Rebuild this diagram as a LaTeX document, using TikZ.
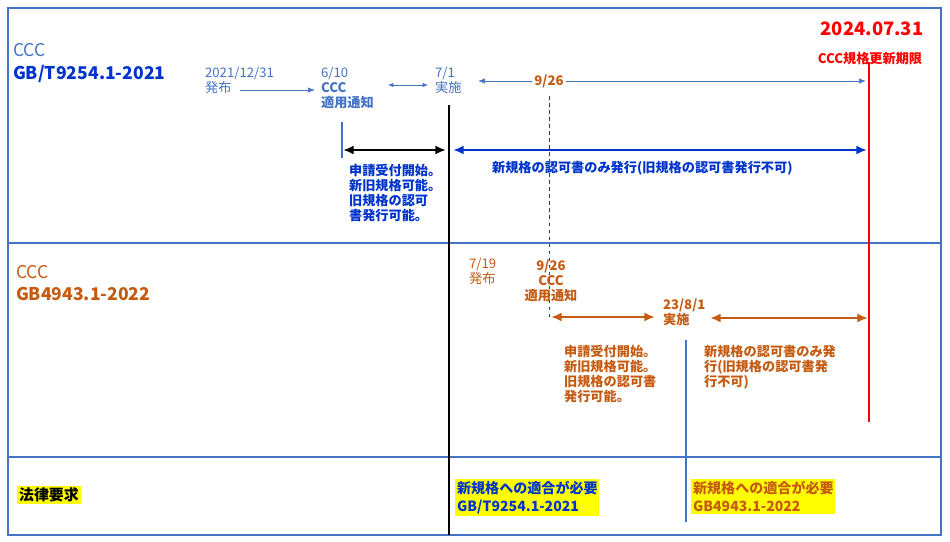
\documentclass[tikz,border=0pt]{standalone}
\usepackage{fontspec}
\setmainfont{Noto Sans CJK JP}
\usetikzlibrary{arrows.meta}
\definecolor{cblue}{RGB}{47,84,150}
\definecolor{lblue}{RGB}{68,114,196}
\definecolor{dblue}{RGB}{0,51,204}
\definecolor{corange}{RGB}{197,90,17}
\definecolor{hlyellow}{RGB}{255,255,0}
\begin{document}
\begin{tikzpicture}[x=0.02cm, y=-0.02cm,
    txt/.style={font=\fontsize{7.5}{8.5}\selectfont, align=left, inner sep=1pt},
    btxt/.style={txt, font=\fontsize{7.5}{8.5}\selectfont\bfseries},
    thinarr/.style={lblue, -{Latex[length=4pt,width=3pt]}},
    fatarr/.style={line width=1.4pt, {Latex[length=6pt,width=5pt]}-{Latex[length=6pt,width=5pt]}}]
  \useasboundingbox (0,0) rectangle (950,541);
  \draw [lblue, line width=0.6pt] (8,8) rectangle (941,535);
  \draw [lblue, line width=0.6pt] (8,243) -- (941,243);
  \draw [lblue, line width=0.6pt] (8,457) -- (941,457);

  % vertical markers
  \draw [black, line width=0.6pt] (449,105) -- (449,535);
  \draw [red, line width=1.5pt] (869,62) -- (869,422);
  \draw [lblue, line width=0.6pt] (686,340) -- (686,522);
  \draw [green!40!black, dash pattern=on 2pt off 2pt, line width=0.5pt] (549,96) -- (549,320);
  \draw [lblue, line width=0.6pt] (342,122) -- (342,158);

  % top row: GB/T9254.1-2021
  \node [anchor=north west, inner sep=1pt, lblue, font=\fontsize{10}{11}\selectfont] (ccca) at (11,41) {CCC};
  \node [anchor=north west, inner sep=1pt, dblue, font=\fontsize{10}{11}\selectfont\bfseries] (gba) at (11,63) {GB/T9254.1-2021};
  \node [anchor=north west, txt, lblue] (pubA) at (203,65) {2021/12/31\\発布};
  \node [anchor=north west, txt, lblue] (notA) at (319,65) {6/10\\\textbf{CCC}\\\textbf{適用通知}};
  \node [anchor=north west, txt, lblue] (implA) at (433,65) {7/1\\実施};
  \node [red, font=\fontsize{10.5}{12}\selectfont\bfseries] (deadline) at (872,29) {2024.07.31};
  \node [red, btxt] (deadlinelbl) at (870,59) {CCC規格更新期限};
  \node [corange, btxt, fill=white] (sepA) at (549,81) {9/26};
  \draw [thinarr] (240,90) -- (315,90);
  \draw [lblue, {Latex[length=3pt,width=2.5pt]}-{Latex[length=3pt,width=2.5pt]}] (388,85) -- (428,85);
  \draw [thinarr] (sepA) -- (478,81);
  \draw [thinarr] (sepA) -- (866,81);
  \coordinate (a1) at (343,150); \coordinate (a2) at (446,150);
  \coordinate (a3) at (453,150); \coordinate (a4) at (867,150);
  \draw [fatarr, black] (a1) -- (a2);
  \draw [fatarr, dblue] (a3) -- (a4);
  \node [anchor=north west, btxt, dblue] (transA) at (347,162) {申請受付開始。\\新旧規格可能。\\旧規格の認可\\書発行可能。};
  \node [anchor=north west, btxt, dblue] (onlyA) at (490,159) {新規格の認可書のみ発行(旧規格の認可書発行不可)};

  % middle row: GB4943.1-2022
  \node [anchor=north west, inner sep=1pt, corange, font=\fontsize{10}{11}\selectfont] (cccb) at (14,263) {CCC};
  \node [anchor=north west, inner sep=1pt, corange, font=\fontsize{10}{11}\selectfont\bfseries] (gbb) at (14,285) {GB4943.1-2022};
  \node [anchor=north west, txt, corange] (pubB) at (467,256) {7/19\\発布};
  \node [btxt, corange, align=center] (notB) at (551,281) {9/26\\CCC\\適用通知};
  \node [anchor=north west, btxt, corange] (implB) at (661,297) {23/8/1\\実施};
  \coordinate (b1) at (551,317); \coordinate (b2) at (655,317);
  \coordinate (b3) at (710,318); \coordinate (b4) at (868,318);
  \draw [fatarr, corange, line width=1.2pt] (b1) -- (b2);
  \draw [fatarr, corange, line width=1.2pt] (b3) -- (b4);
  \node [anchor=north west, btxt, corange] (transB) at (562,343) {申請受付開始。\\新旧規格可能。\\旧規格の認可書\\発行可能。};
  \node [anchor=north west, btxt, corange] (onlyB) at (702,343) {新規格の認可書のみ発\\行(旧規格の認可書発\\行不可)};

  % bottom row
  \node [anchor=west, fill=hlyellow, inner sep=1pt, font=\fontsize{8.5}{10}\selectfont\bfseries] (law) at (17,495) {法律要求};
  \node [anchor=north west, fill=hlyellow, inner sep=1pt, text=dblue, align=left, font=\fontsize{8}{10.5}\selectfont\bfseries] (reqA) at (455,479) {新規格への適合が必要\\GB/T9254.1-2021};
  \node [anchor=north west, fill=hlyellow, inner sep=1pt, text=corange, align=left, font=\fontsize{8}{10.5}\selectfont\bfseries] (reqB) at (691,479) {新規格への適合が必要\\GB4943.1-2022};
\end{tikzpicture}
\end{document}
